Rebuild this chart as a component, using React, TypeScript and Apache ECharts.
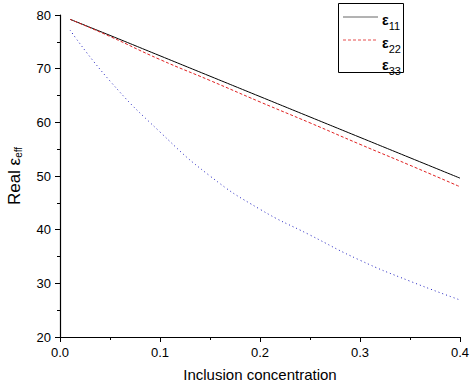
import React, { useEffect, useRef } from "react";
import * as echarts from "echarts";

const xValues = [0.01, 0.05, 0.1, 0.15, 0.2, 0.25, 0.3, 0.35, 0.4];
const eps11 = [79.2, 76.2, 72.4, 68.6, 64.8, 61.0, 57.2, 53.4, 49.6];
const eps22 = [79.2, 76.0, 71.7, 67.8, 63.8, 59.9, 55.9, 52.0, 48.0];
const eps33 = [77.2, 67.7, 58.2, 50.0, 43.8, 39.0, 34.3, 30.4, 26.9];
const seriesNames = ["ε11", "ε22", "ε33"];
const xTitle = "Inclusion concentration";

const FONT = "Liberation Sans, Arial, sans-serif";

export default function App() {
  const ref = useRef<HTMLDivElement>(null);
  useEffect(() => {
    document.body.style.margin = "0";
    const chart = echarts.init(ref.current!, null, { renderer: "svg" });
    const pair = (ys: number[]) => xValues.map((x, i) => [x, ys[i]]);
    const legendRows = [
      { name: seriesNames[0], color: "#000", type: "solid", width: 1, opacity: 0.6, y: 17 },
      { name: seriesNames[1], color: "#e02020", type: [3, 2], width: 1, opacity: 0.8, y: 40 },
      { name: seriesNames[2], color: "#3030d0", type: [1, 3], width: 1, opacity: 0.0, y: 62 },
    ];
    const graphics: any[] = [
      {
        type: "rect",
        shape: { x: 338.5, y: 3.5, width: 65, height: 69 },
        style: { fill: "#fff", stroke: "#000", lineWidth: 1 },
        z: 10,
      },
    ];
    legendRows.forEach((r) => {
      graphics.push({
        type: "line",
        shape: { x1: 343, y1: r.y, x2: 378, y2: r.y },
        style: { stroke: r.color, lineWidth: r.width, lineDash: r.type === "solid" ? null : r.type, opacity: r.opacity },
        z: 11,
      });
      graphics.push({
        type: "text",
        x: 382,
        y: r.y - 8,
        style: {
          text: "ε{s|" + r.name.slice(1) + "}",
          font: "bold 14px " + FONT,
          fill: "#000",
          rich: { s: { fontSize: 11, fontFamily: FONT, fill: "#000", padding: [11, 0, 0, 0] } },
        },
        z: 11,
      });
    });
    chart.setOption({
      animation: false,
      backgroundColor: "#fff",
      grid: { left: 60, right: 14, top: 15, bottom: 47, containLabel: false, outerBoundsMode: "none" },
      xAxis: {
        type: "value",
        min: 0,
        max: 0.4,
        interval: 0.1,
        name: xTitle,
        nameLocation: "middle",
        nameGap: 30,
        nameTextStyle: { fontSize: 15, fontFamily: FONT, color: "#000" },
        axisLine: { lineStyle: { color: "#000", width: 1.2 } },
        axisTick: { show: true, inside: false, length: 5, lineStyle: { color: "#000" } },
        minorTick: { show: true, splitNumber: 2, length: 3, lineStyle: { color: "#000" } },
        axisLabel: { fontSize: 13, fontFamily: FONT, color: "#000", margin: 9, formatter: (v: number) => v.toFixed(1) },
        splitLine: { show: false },
      },
      yAxis: {
        type: "value",
        min: 20,
        max: 80,
        interval: 10,
        name: "Real ε{s|eff}",
        nameLocation: "middle",
        nameGap: 37,
        nameTextStyle: {
          fontSize: 17,
          fontFamily: FONT,
          color: "#000",
          rich: { s: { fontSize: 10, fontFamily: FONT, color: "#000", padding: [8, 0, 0, 0] } },
        },
        axisLine: { show: true, lineStyle: { color: "#000", width: 1.2 } },
        axisTick: { show: true, inside: false, length: 5, lineStyle: { color: "#000" } },
        minorTick: { show: true, splitNumber: 2, length: 3, lineStyle: { color: "#000" } },
        axisLabel: { fontSize: 13, fontFamily: FONT, color: "#000", margin: 9 },
        splitLine: { show: false },
      },
      series: [
        {
          name: seriesNames[0],
          type: "line",
          data: pair(eps11),
          smooth: true,
          showSymbol: false,
          lineStyle: { color: "#000", width: 1, type: "solid" },
        },
        {
          name: seriesNames[1],
          type: "line",
          data: pair(eps22),
          smooth: true,
          showSymbol: false,
          lineStyle: { color: "#e02020", width: 1, type: [3, 2] },
        },
        {
          name: seriesNames[2],
          type: "line",
          data: pair(eps33),
          smooth: true,
          showSymbol: false,
          lineStyle: { color: "#2020c0", width: 1, type: [1, 3] },
        },
      ],
      graphic: graphics,
    });
    return () => chart.dispose();
  }, []);
  return <div ref={ref} style={{ width: 474, height: 384 }} />;
}
